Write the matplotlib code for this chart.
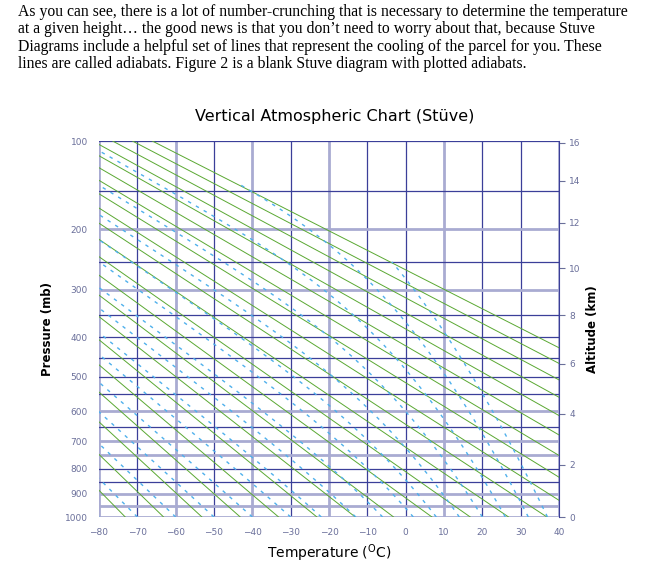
import numpy as np
import matplotlib
matplotlib.use("Agg")
import matplotlib.pyplot as plt

# ---- data ----
temp_ticks = [-80, -70, -60, -50, -40, -30, -20, -10, 0, 10, 20, 30, 40]
pres_ticks = [100, 200, 300, 400, 500, 600, 700, 800, 900, 1000]
pres_grid = [100, 150, 200, 250, 300, 350, 400, 450, 500, 550, 600, 650, 700, 750, 800, 850, 900, 950, 1000]
alt_ticks = [0, 2, 4, 6, 8, 10, 12, 14, 16]
dry_thetas = list(range(200, 410, 10))            # K
moist_start = [-130, -120, -110, -100, -90, -80, -70, -60, -50, -40, -30, -22, -13, -6,
               2, 8, 14, 20, 26, 32, 37]          # degC at 1000 mb

paragraph = ("As you can see, there is a lot of number-crunching that is necessary to determine the temperature\n"
             "at a given height\u2026 the good news is that you don\u2019t need to worry about that, because Stuve\n"
             "Diagrams include a helpful set of lines that represent the cooling of the parcel for you. These\n"
             "lines are called adiabats. Figure 2 is a blank Stuve diagram with plotted adiabats.")

K = 0.286
def y(p):
    return np.asarray(p, float) ** K

fig = plt.figure(figsize=(6.56, 5.77), dpi=100)
W, H = 656, 577
ax = fig.add_axes([99 / W, 1 - 517 / H, 460 / W, 376 / H])
ax.set_xlim(-80, 40)
ax.set_ylim(y(1000), y(100))

dark = "#3b3f99"
light = "#a9abd2"
for t in temp_ticks:
    if t in (-60, -40, -20, 10, 40, -80):
        ax.axvline(t, color=light, lw=2.0, zorder=1)
    else:
        ax.axvline(t, color=dark, lw=0.9, zorder=1)
for p in pres_grid:
    if p in (200, 300, 600, 700, 750, 900, 950, 1000):
        ax.axhline(y(p), color=light, lw=2.0, zorder=1)
    else:
        ax.axhline(y(p), color=dark, lw=0.9, zorder=1)

# dry adiabats
pp = np.linspace(100, 1000, 300)
for th in dry_thetas:
    T = th * (pp / 1000.0) ** K - 273.15
    ax.plot(T, y(pp), color="#5aa832", lw=0.7, zorder=2)

# moist adiabats
Rd, cp, Lv, eps = 287.0, 1004.0, 2.5e6, 0.622
def es(Tk):
    Tc = Tk - 273.15
    return 6.112 * np.exp(17.67 * Tc / (Tc + 243.5))
for t0 in moist_start:
    Tk = t0 + 273.15
    p = 1000.0
    Ps, Ts = [p], [Tk]
    dp = -2.0
    while p > 100:
        e = es(Tk)
        rs = eps * e / (p - e)
        dTdp = (Rd * Tk + Lv * rs) / (p * (cp + Lv ** 2 * rs * eps / (Rd * Tk ** 2)))
        Tk += dTdp * dp
        p += dp
        Ps.append(p); Ts.append(Tk)
    Ps = np.array(Ps); Ts = np.array(Ts)
    theta = Ts * (1000.0 / Ps) ** K
    Ts = np.where(theta <= 401, Ts, np.nan)
    ax.plot(Ts - 273.15, y(Ps), color="#4fb0ec", lw=1.0,
            dashes=(2.5, 4), zorder=2)

tick_col = "#6a6f9a"
ax.set_xticks(temp_ticks)
ax.set_yticks(y(pres_ticks))
ax.set_yticklabels([str(p) for p in pres_ticks])
ax.tick_params(axis="both", labelsize=6.5, colors=tick_col, length=0, pad=8)
for s in ax.spines.values():
    s.set_visible(False)

# altitude axis
ax2 = ax.twinx()
ax2.set_ylim(ax.get_ylim())
def p_of_h(h):
    h = h * 1000.0
    if h <= 11000:
        return 1000.0 * (1 - 2.2558e-5 * h) ** 5.256
    p11 = 1000.0 * (1 - 2.2558e-5 * 11000) ** 5.256
    return p11 * np.exp(-(h - 11000) / 6341.6)
ax2.set_yticks([y(p_of_h(h)) for h in alt_ticks])
ax2.set_yticklabels([str(h) for h in alt_ticks])
ax2.tick_params(axis="y", labelsize=6.5, colors=tick_col, length=4, width=0.8, direction="out")
for s in ax2.spines.values():
    s.set_visible(False)
ax2.spines["right"].set_visible(True)
ax2.spines["right"].set_color(dark)
ax2.spines["right"].set_linewidth(0.8)

ax.set_xlabel("Temperature ($^{\\mathrm{O}}$C)", fontsize=10, labelpad=4)
ax.set_ylabel("Pressure (mb)", fontsize=8.5, fontweight="bold", labelpad=8)
ax2.set_ylabel("Altitude (km)", fontsize=8.5, fontweight="bold", labelpad=4)

fig.text(335 / W, 1 - 116 / H, "Vertical Atmospheric Chart (St\u00fcve)", ha="center", va="center", fontsize=11.5)
fig.text(18 / W, 1 - 4 / H, paragraph, ha="left", va="top", fontsize=11.3,
         family="Liberation Serif", linespacing=1.12)

fig.savefig("out.png", dpi=100)
